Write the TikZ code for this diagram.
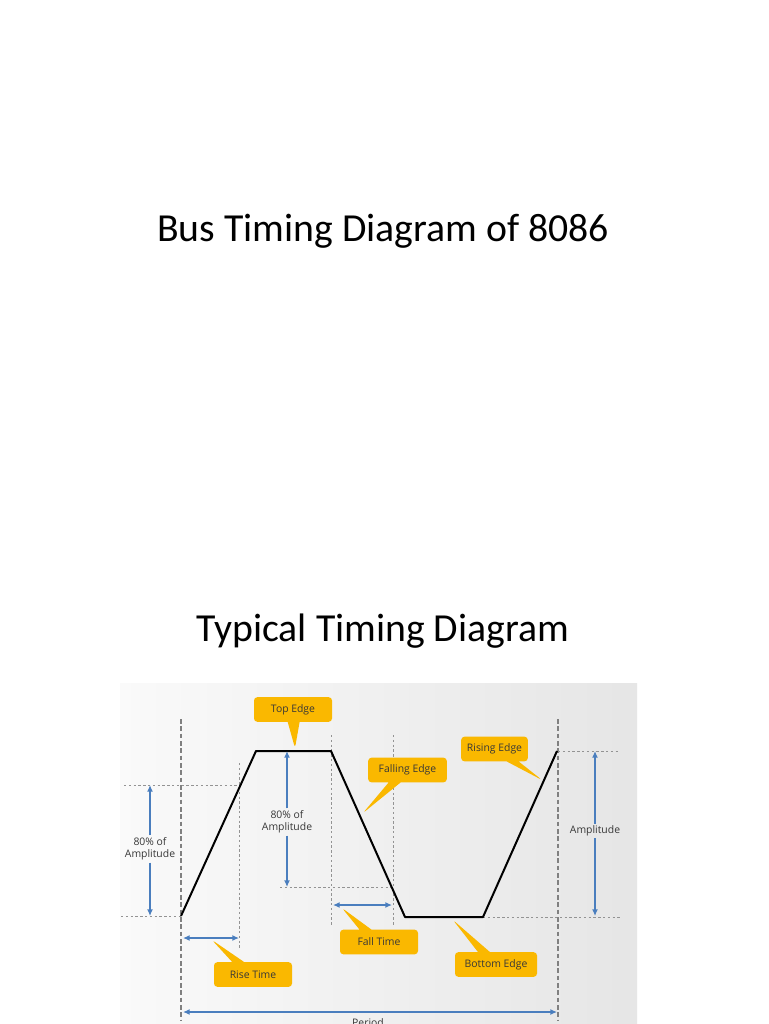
\documentclass[tikz,border=0pt]{standalone}
\usepackage{fontspec}
\setmainfont{Carlito}
\newfontfamily\labelfont{Open Sans}
\usetikzlibrary{arrows.meta,shapes.callouts}

\definecolor{calloutyellow}{RGB}{250,184,0}
\definecolor{arrowblue}{RGB}{74,126,190}
\definecolor{labelgray}{RGB}{55,55,55}

\begin{document}
\begin{tikzpicture}[
    x=0.75pt, y=-0.75pt,
    font=\labelfont\fontsize{7.8}{9.2}\selectfont,
    callbox/.style={rectangle callout, fill=calloutyellow, rounded corners=2.5pt,
        minimum height=18.5pt, callout pointer width=9pt, text=labelgray, inner sep=0pt},
    dimarrow/.style={arrowblue, line width=1.1pt, -{Latex[length=5pt,width=4.5pt]}},
    twoarrow/.style={arrowblue, line width=1.1pt, {Latex[length=5pt,width=4.5pt]}-{Latex[length=5pt,width=4.5pt]}},
    dimtext/.style={text=labelgray, align=center, inner sep=1.5pt},
    bigguide/.style={gray, line width=1.1pt, dash pattern=on 3.5pt off 2pt},
    guide/.style={gray!85, line width=0.6pt, dash pattern=on 1.8pt off 1.8pt},
]

\useasboundingbox (0,0) rectangle (768,1024);
\fill[white] (0,0) rectangle (768,1024);

% Titles
\node[font=\rmfamily\fontsize{29.8}{34}\selectfont, anchor=base] (title) at (383,241) {Bus Timing Diagram of 8086};
\node[font=\rmfamily\fontsize{29.8}{34}\selectfont, anchor=base] (subtitle) at (383,641) {Typical Timing Diagram};

% Panel
\shade[left color=black!2, right color=black!10] (120,683) rectangle (637,1024);

% Guide lines
\draw[bigguide] (181,719) -- (181,1020);
\draw[bigguide] (558,719) -- (558,1020);
\draw[guide] (239,763) -- (239,950);
\draw[guide] (331,735) -- (331,925);
\draw[guide] (393,735) -- (393,925);
\draw[guide] (124,785) -- (240,785);
\draw[guide] (121,916) -- (181,916);
\draw[guide] (280,887) -- (393,887);
\draw[guide] (558,751) -- (620,751);
\draw[guide] (483,917) -- (620,917);

% Waveform
\draw[line width=1.5pt, line join=round] (181,916) -- (256,751) -- (331,751) -- (405,917) -- (483,917) -- (557,751);

% Amplitude arrows
\coordinate (ampLtop) at (150,785);
\coordinate (ampLbot) at (150,916);
\node[dimtext] (ampL) at (150,849) {80\% of\\Amplitude};
\draw[dimarrow] (ampL.north) -- (ampLtop);
\draw[dimarrow] (ampL.south) -- (ampLbot);

\coordinate (ampMtop) at (287,751);
\coordinate (ampMbot) at (287,887);
\node[dimtext] (ampM) at (287,822) {80\% of\\Amplitude};
\draw[dimarrow] (ampM.north) -- (ampMtop);
\draw[dimarrow] (ampM.south) -- (ampMbot);

\coordinate (ampRtop) at (595,751);
\coordinate (ampRbot) at (595,916);
\node[dimtext] (ampR) at (595,831) {Amplitude};
\draw[dimarrow] (ampR.north) -- (ampRtop);
\draw[dimarrow] (ampR.south) -- (ampRbot);

% Time arrows
\coordinate (riseL) at (183,938);
\coordinate (riseR) at (239,938);
\draw[twoarrow] (riseL) -- (riseR);
\coordinate (fallL) at (333,905);
\coordinate (fallR) at (392,905);
\draw[twoarrow] (fallL) -- (fallR);
\coordinate (periodL) at (183,1012);
\coordinate (periodR) at (557,1012);
\draw[twoarrow] (periodL) -- (periodR);
\node[dimtext, anchor=north] (period) at (368,1016) {Period};

% Callouts
\coordinate (topTip) at (295,748);
\coordinate (fallTip) at (363,813);
\coordinate (risingTip) at (542,780);
\coordinate (riseTimeTip) at (212,940);
\coordinate (fallTimeTip) at (342,908);
\coordinate (bottomTip) at (453,920);

\node[callbox, minimum width=58.5pt, callout absolute pointer=(topTip)] (topedge) at (293,709.5) {Top Edge};
\node[callbox, minimum width=59pt, callout absolute pointer=(fallTip)] (fallingedge) at (407.5,770) {Falling Edge};
\node[callbox, minimum width=50pt, callout absolute pointer=(risingTip)] (risingedge) at (494.5,749) {Rising Edge};
\node[callbox, minimum width=58.5pt, callout absolute pointer=(riseTimeTip)] (risetime) at (253,974.5) {Rise Time};
\node[callbox, minimum width=58.5pt, callout absolute pointer=(fallTimeTip)] (falltime) at (379,942) {Fall Time};
\node[callbox, minimum width=61.5pt, callout absolute pointer=(bottomTip)] (bottomedge) at (496,964.5) {Bottom Edge};

\end{tikzpicture}
\end{document}
